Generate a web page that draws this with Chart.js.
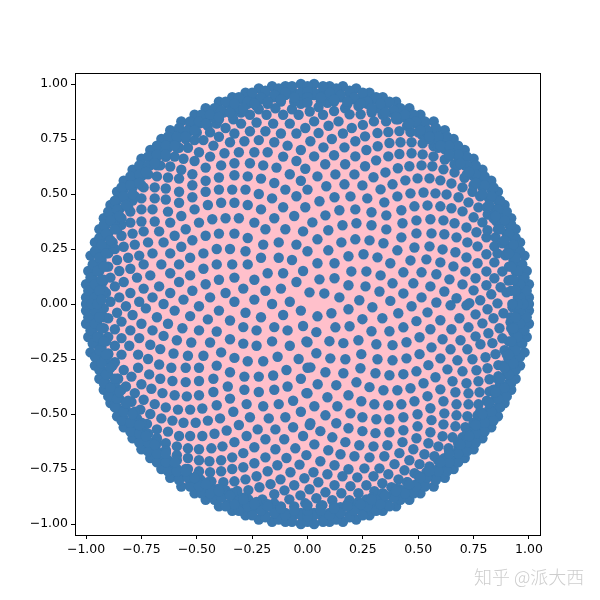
<!DOCTYPE html>
<html>
<head>
<meta charset="utf-8">
<style>
  html, body { margin: 0; padding: 0; background: #fff; }
  #wrap { position: relative; width: 600px; height: 600px; }
  #mark { position: absolute; left: 474px; top: 563px; color: #cdcdcd; font: 300 18px "Noto Sans CJK SC"; white-space: nowrap; }
</style>
<script src="https://cdn.jsdelivr.net/npm/chart.js@4"></script>
</head>
<body>
<div id="wrap">
  <canvas id="chart" width="600" height="600"></canvas>
  <div id="mark">知乎 @派大西</div>
</div>
<script>
const tickValues = [-1, -0.75, -0.5, -0.25, 0, 0.25, 0.5, 0.75, 1];
const tickLabels = ['−1.00', '−0.75', '−0.50', '−0.25', '0.00', '0.25', '0.50', '0.75', '1.00'];
const axisLimit = 1.05;
const discRadius = 1;

// separate dots, read by eye off the zoomed crops
const dotsTopLeft = [[-.08,.01],[-.16,0],[-.24,.02],[-.33,.01],[-.44,.03],[-.56,.02],[-.65,0],[-.76,.01],[-.89,.01],[-.12,.07],[-.19,.06],[-.29,.07],[-.37,.05],[-.52,.06],[-.62,.05],[-.7,.03],[-.74,.07],[-.8,.05],[-.85,.03],[-.05,.1],[-.24,.11],[-.33,.12],[-.4,.11],[-.46,.09],[-.58,.1],[-.67,.08],[-.02,.15],[-.11,.14],[-.18,.14],[-.27,.18],[-.34,.18],[-.41,.18],[-.47,.16],[-.53,.13],[-.62,.14],[-.71,.13],[-.77,.12],[-.83,.1],[-.87,.08],[-.91,.05],[-.07,.2],[-.13,.21],[-.21,.21],[-.28,.24],[-.35,.25],[-.41,.25],[-.47,.23],[-.53,.21],[-.58,.18],[-.66,.18],[-.74,.18],[-.8,.16],[-.85,.15],[-.89,.12],[-.925,.1],[0,.24],[-.05,.27],[-.13,.28],[-.2,.27],[-.27,.3],[-.33,.32],[-.4,.32],[-.46,.31],[-.52,.29],[-.57,.26],[-.62,.23],[-.7,.23],[-.76,.22],[-.81,.21],[-.86,.2],[-.9,.17],[-.02,.33],[-.1,.34],[-.19,.34],[-.24,.37],[-.31,.39],[-.37,.39],[-.43,.385],[-.49,.37],[-.55,.34],[-.6,.31],[-.65,.28],[-.72,.28],[-.78,.27],[-.83,.26],[-.87,.25],[-.06,.4],[-.15,.39],[-.21,.43],[-.27,.45],[-.33,.46],[-.39,.46],[-.45,.45],[-.51,.43],[-.57,.4],[-.62,.37],[-.67,.33],[-.74,.33],[-.79,.32],[-.84,.31],[-.01,.44],[-.11,.44],[-.16,.48],[-.22,.5],[-.28,.52],[-.34,.52],[-.4,.52],[-.46,.51],[-.52,.485],[-.58,.46],[-.63,.42],[-.69,.375],[-.75,.375],[-.8,.37],[-.84,.36],[-.05,.49],[-.1,.52],[-.15,.55],[-.21,.57],[-.27,.58],[-.33,.585],[-.4,.575],[-.46,.56],[-.52,.54],[-.58,.51],[-.64,.475],[-.7,.43],[-.75,.43],[-.8,.42],[0,.52],[-.03,.56],[-.08,.59],[-.14,.62],[-.2,.63],[-.26,.64],[-.33,.64],[-.39,.63],[-.46,.62],[-.52,.59],[-.58,.57],[-.64,.525],[-.69,.48],[-.75,.48],[-.79,.47],[-.01,.615],[-.05,.65],[-.11,.67],[-.18,.69],[-.24,.69],[-.31,.69],[-.375,.685],[-.44,.67],[-.51,.65],[-.57,.61],[-.63,.575],[-.69,.53],[-.74,.53],[-.03,.7],[-.09,.72],[-.15,.735],[-.22,.745],[-.285,.74],[-.35,.735],[-.425,.72],[-.49,.69],[-.56,.66],[-.62,.625],[-.68,.58],[-.05,.775],[-.12,.775],[-.19,.785],[-.26,.785],[-.33,.775],[-.4,.76],[-.47,.745],[-.54,.71],[-.6,.67],[-.665,.63],[-.01,.8],[-.08,.82],[-.155,.82],[-.23,.825],[-.3,.82],[-.37,.8],[-.44,.78],[-.51,.745],[-.58,.71],[-.64,.67],[-.04,.86],[-.11,.86],[-.185,.86],[-.26,.86],[-.335,.84],[-.41,.82],[-.03,.91],[-.07,.885],[-.145,.89],[-.22,.885],[-.3,.87]];
const dotsTopRight = [[.05,.895],[.09,.915],[.01,.875],[.07,.86],[.12,.877],[.17,.89],[.03,.83],[.14,.83],[.19,.862],[.24,.862],[.29,.87],[.34,.865],[.095,.81],[.2,.8],[.25,.814],[.3,.83],[.355,.83],[.41,.84],[.05,.777],[.16,.775],[.316,.777],[.365,.782],[.415,.786],[.465,.782],[.516,.77],[.11,.75],[.013,.74],[.216,.74],[.26,.762],[.317,.717],[.37,.732],[.42,.735],[.47,.735],[.52,.73],[.569,.718],[.62,.703],[.072,.712],[.167,.712],[.266,.7],[.365,.671],[.415,.682],[.47,.685],[.52,.68],[.569,.671],[.62,.657],[.664,.635],[.03,.671],[.12,.676],[.216,.671],[.31,.653],[.408,.617],[.46,.626],[.515,.63],[.564,.626],[.614,.612],[.664,.598],[.709,.574],[.08,.635],[.17,.635],[.26,.626],[.352,.598],[.442,.562],[.497,.571],[.551,.571],[.6,.562],[.65,.548],[.7,.53],[.745,.51],[.045,.58],[.126,.589],[.212,.589],[.298,.576],[.384,.544],[.465,.503],[.524,.507],[.578,.503],[.628,.498],[.682,.485],[.727,.462],[.772,.439],[.085,.535],[.167,.544],[.248,.539],[.33,.521],[.406,.489],[.483,.444],[.542,.448],[.6,.444],[.65,.435],[.7,.421],[.75,.394],[.79,.371],[.122,.485],[.194,.489],[.27,.48],[.347,.462],[.424,.426],[.492,.38],[.555,.385],[.614,.38],[.664,.367],[.718,.348],[.763,.326],[.808,.303],[.054,.467],[.144,.426],[.216,.43],[.289,.417],[.356,.403],[.429,.367],[.492,.321],[.56,.321],[.618,.317],[.673,.303],[.722,.28],[.768,.262],[.808,.226],[.081,.403],[.022,.371],[.158,.358],[.221,.367],[.289,.358],[.356,.339],[.424,.303],[.483,.257],[.551,.262],[.61,.248],[.668,.235],[.718,.212],[.768,.185],[.094,.335],[.045,.294],[.153,.28],[.216,.294],[.28,.289],[.343,.276],[.406,.244],[.465,.198],[.537,.203],[.6,.189],[.659,.171],[.713,.148],[.759,.117],[.094,.244],[.185,.217],[.253,.226],[.316,.212],[.374,.185],[.433,.144],[.515,.144],[.582,.135],[.641,.112],[.7,.089],[.75,.062],[.045,.185],[.122,.185],[.198,.148],[.266,.148],[.33,.13],[.384,.094],[.478,.094],[.555,.08],[.618,.057],[.673,.026],[.731,.004],[.054,.112],[.122,.117],[.185,.085],[.262,.08],[.325,.057],[.374,.014],[.433,.048],[.515,.03],[.582,.007],[.009,.053],[.076,.048],[.144,.03],[.234,.017],[.808,.148],[.844,.189],[.88,.148],[.844,.117],[.808,.085],[.872,.076],[.908,.107],[.899,.053],[.83,.044],[.78,.017],[.858,.003],[.814,.407],[.853,.376],[.813,.335],[.849,.303],[.844,.262],[.88,.276],[.894,.221],[.858,.23],[.917,.244]];
const dotsBottomLeft = [[-.82,-.01],[-.92,-.02],[-.86,-.04],[-.9,-.065],[-.79,-.05],[-.73,-.02],[-.49,-.01],[-.4,-.03],[-.28,-.04],[-.21,-.06],[-.11,-.05],[-.03,-.03],[-.84,-.08],[-.87,-.115],[-.75,-.09],[-.68,-.06],[-.6,-.03],[-.53,-.055],[-.45,-.07],[-.35,-.075],[-.29,-.105],[-.23,-.12],[-.15,-.105],[-.09,-.12],[-.02,-.1],[-.9,-.15],[-.8,-.12],[-.7,-.12],[-.63,-.09],[-.565,-.11],[-.49,-.12],[-.41,-.125],[-.29,-.18],[-.23,-.19],[-.16,-.17],[-.08,-.19],[-.005,-.17],[-.84,-.155],[-.76,-.155],[-.65,-.145],[-.59,-.165],[-.525,-.175],[-.44,-.175],[-.35,-.16],[-.87,-.19],[-.805,-.19],[-.71,-.185],[-.665,-.205],[-.605,-.225],[-.54,-.235],[-.47,-.235],[-.39,-.22],[-.33,-.245],[-.27,-.26],[-.2,-.26],[-.135,-.24],[-.04,-.25],[-.9,-.225],[-.84,-.23],[-.765,-.23],[-.72,-.25],[-.67,-.275],[-.615,-.29],[-.55,-.29],[-.49,-.29],[-.41,-.28],[-.35,-.31],[-.285,-.33],[-.22,-.33],[-.155,-.325],[-.095,-.3],[0,-.29],[-.87,-.265],[-.83,-.3],[-.765,-.29],[-.715,-.32],[-.665,-.34],[-.61,-.35],[-.55,-.355],[-.49,-.35],[-.425,-.34],[-.36,-.375],[-.285,-.39],[-.22,-.4],[-.15,-.39],[-.09,-.375],[-.03,-.34],[-.855,-.34],[-.795,-.33],[-.75,-.365],[-.705,-.385],[-.655,-.405],[-.6,-.415],[-.545,-.42],[-.49,-.415],[-.425,-.4],[-.35,-.43],[-.275,-.455],[-.2,-.465],[-.13,-.455],[-.065,-.44],[-.005,-.405],[-.82,-.375],[-.78,-.405],[-.74,-.435],[-.69,-.455],[-.64,-.47],[-.585,-.48],[-.53,-.48],[-.475,-.475],[-.41,-.46],[-.335,-.49],[-.26,-.515],[-.175,-.52],[-.1,-.515],[-.03,-.49],[-.795,-.445],[-.755,-.48],[-.71,-.5],[-.66,-.52],[-.61,-.53],[-.56,-.54],[-.505,-.54],[-.45,-.53],[-.395,-.52],[-.31,-.55],[-.225,-.57],[-.145,-.57],[-.065,-.56],[.01,-.55],[-.77,-.52],[-.725,-.545],[-.68,-.57],[-.63,-.58],[-.58,-.6],[-.53,-.6],[-.475,-.6],[-.42,-.59],[-.365,-.575],[-.275,-.6],[-.19,-.615],[-.105,-.615],[-.02,-.6],[-.73,-.587],[-.68,-.61],[-.64,-.633],[-.59,-.647],[-.54,-.656],[-.49,-.66],[-.434,-.656],[-.384,-.647],[-.33,-.628],[-.24,-.651],[-.145,-.66],[-.055,-.656],[-.687,-.647],[-.64,-.665],[-.59,-.687],[-.54,-.7],[-.49,-.71],[-.443,-.715],[-.39,-.71],[-.34,-.697],[-.29,-.678],[-.19,-.697],[-.095,-.7],[-.005,-.687],[-.54,-.75],[-.49,-.76],[-.44,-.765],[-.39,-.76],[-.34,-.75],[-.29,-.742],[-.24,-.724],[-.136,-.733],[-.036,-.73],[-.484,-.797],[-.434,-.806],[-.38,-.81],[-.33,-.806],[-.28,-.797],[-.23,-.783],[-.18,-.76],[-.077,-.765],[-.42,-.842],[-.37,-.846],[-.317,-.85],[-.267,-.846],[-.217,-.833],[-.167,-.819],[-.122,-.797],[-.014,-.792],[-.317,-.892],[-.267,-.888],[-.204,-.888],[-.15,-.865],[-.104,-.847],[-.06,-.824],[-.15,-.906],[-.082,-.888],[-.032,-.87],[-.01,-.906]];
const dotsBottomRight = [[.045,-.056],[.108,-.042],[.185,-.024],[.248,-.069],[.293,-.015],[.338,-.065],[.41,-.042],[.47,-.01],[.542,-.038],[.646,-.006],[.718,-.006],[.6,-.074],[.686,-.065],[.759,-.047],[.813,-.024],[.126,-.106],[.19,-.101],[.289,-.124],[.37,-.124],[.433,-.106],[.492,-.078],[.555,-.115],[.65,-.115],[.727,-.106],[.79,-.088],[.84,-.065],[.885,-.042],[.926,-.015],[.04,-.128],[.099,-.169],[.162,-.178],[.23,-.165],[.311,-.183],[.384,-.187],[.447,-.174],[.506,-.151],[.61,-.16],[.691,-.165],[.759,-.147],[.817,-.133],[.867,-.11],[.917,-.083],[.948,-.056],[0,-.174],[.04,-.224],[.103,-.247],[.171,-.251],[.243,-.228],[.316,-.251],[.384,-.256],[.447,-.247],[.506,-.228],[.56,-.197],[.646,-.206],[.722,-.206],[.781,-.183],[.835,-.178],[.88,-.156],[.93,-.128],[.013,-.288],[.081,-.31],[.162,-.315],[.239,-.292],[.307,-.315],[.37,-.324],[.433,-.319],[.492,-.306],[.546,-.278],[.6,-.247],[.677,-.256],[.745,-.251],[.804,-.242],[.849,-.228],[.89,-.21],[.944,-.183],[.046,-.365],[.13,-.369],[.221,-.356],[.28,-.378],[.343,-.392],[.406,-.392],[.465,-.383],[.524,-.36],[.578,-.333],[.632,-.297],[.7,-.306],[.763,-.301],[.813,-.292],[.862,-.278],[.908,-.251],[.948,-.228],[0,-.406],[.09,-.424],[.185,-.415],[.243,-.442],[.302,-.456],[.365,-.46],[.424,-.456],[.483,-.442],[.542,-.419],[.6,-.388],[.655,-.351],[.718,-.36],[.772,-.351],[.822,-.342],[.862,-.328],[.903,-.301],[.031,-.465],[.135,-.465],[.194,-.497],[.248,-.515],[.311,-.524],[.37,-.524],[.433,-.515],[.497,-.501],[.555,-.474],[.614,-.442],[.668,-.401],[.727,-.406],[.777,-.401],[.822,-.397],[.867,-.374],[.081,-.506],[.013,-.542],[.13,-.542],[.185,-.565],[.248,-.578],[.307,-.587],[.37,-.583],[.433,-.574],[.497,-.556],[.56,-.528],[.618,-.497],[.673,-.456],[.727,-.456],[.772,-.456],[.822,-.447],[.862,-.424],[.058,-.578],[.112,-.606],[.171,-.628],[.234,-.642],[.298,-.647],[.361,-.642],[.429,-.628],[.492,-.61],[.555,-.583],[.614,-.547],[.673,-.506],[.722,-.51],[.768,-.506],[.808,-.497],[.031,-.638],[.094,-.665],[.149,-.683],[.212,-.692],[.28,-.697],[.347,-.692],[.415,-.678],[.478,-.66],[.546,-.633],[.61,-.601],[.668,-.556],[.713,-.56],[.754,-.556],[.058,-.715],[.122,-.733],[.185,-.751],[.257,-.747],[.325,-.747],[.393,-.728],[.46,-.71],[.528,-.683],[.591,-.647],[.655,-.606],[.7,-.606],[.027,-.765],[.09,-.774],[.158,-.783],[.225,-.788],[.298,-.783],[.365,-.774],[.438,-.756],[.506,-.728],[.573,-.692],[.637,-.656],[.682,-.647],[.049,-.81],[.122,-.824],[.194,-.828],[.266,-.824],[.338,-.815],[.411,-.797],[.483,-.769],[.551,-.738],[.618,-.701],[.009,-.842],[.081,-.856],[.153,-.86],[.23,-.86],[.302,-.851],[.379,-.833],[.451,-.81],[.537,-.765],[.04,-.883],[.112,-.892],[.189,-.892],[.266,-.888],[.343,-.87],[.415,-.842],[.067,-.915],[.149,-.924],[.225,-.915],[.302,-.901]];

// the outer band is merged solid in the reference, so these are estimated rows, not single readings
const rimTopLeft = [[-.03,1],[-.1,.99],[-.16,.99],[-.22,.98],[-.28,.96],[-.34,.94],[-.4,.92],[-.46,.89],[-.51,.86],[-.57,.83],[-.62,.79],[-.66,.75],[-.71,.7],[-.75,.66],[-.79,.61],[-.83,.56],[-.86,.51],[-.89,.45],[-.92,.39],[-.94,.34],[-.96,.28],[-.98,.22],[-.99,.15],[-1,.09],[-1,.03],[-.07,.97],[-.13,.97],[-.19,.96],[-.25,.94],[-.3,.93],[-.36,.91],[-.42,.88],[-.47,.85],[-.53,.82],[-.58,.79],[-.62,.75],[-.67,.71],[-.71,.67],[-.75,.62],[-.79,.57],[-.83,.52],[-.86,.47],[-.88,.41],[-.91,.36],[-.93,.3],[-.95,.24],[-.96,.18],[-.97,.12],[-.97,.06],[-.03,.95],[-.1,.95],[-.15,.94],[-.21,.93],[-.27,.91],[-.32,.89],[-.38,.87],[-.43,.85],[-.49,.82],[-.54,.78],[-.59,.75],[-.63,.71],[-.68,.67],[-.71,.63],[-.75,.58],[-.79,.53],[-.82,.48],[-.85,.43],[-.87,.37],[-.9,.32],[-.91,.26],[-.93,.2],[-.94,.15],[-.95,.09],[-.95,.03],[-.06,.92],[-.12,.92],[-.18,.91],[-.23,.9],[-.29,.88],[-.34,.86],[-.4,.84],[-.45,.81],[-.5,.78],[-.55,.75],[-.59,.71],[-.64,.67],[-.68,.63],[-.72,.59],[-.75,.54],[-.78,.49],[-.81,.44],[-.84,.39],[-.86,.34],[-.88,.28],[-.9,.23],[-.91,.17],[-.92,.11],[-.92,.06],[-.07,.99],[-.13,.98],[-.19,.97],[-.25,.96],[-.31,.94],[-.37,.92],[-.42,.89],[-.48,.86],[-.53,.83],[-.58,.8],[-.63,.76],[-.68,.72],[-.72,.67],[-.76,.63],[-.8,.58],[-.84,.53],[-.87,.47],[-.9,.42],[-.92,.36],[-.94,.3],[-.96,.24],[-.97,.18],[-.98,.12],[-.99,.06],[-.03,.96],[-.1,.96],[-.15,.95],[-.21,.94],[-.27,.92],[-.33,.91],[-.39,.88],[-.44,.86],[-.49,.83],[-.54,.79],[-.59,.76],[-.64,.72],[-.68,.68],[-.72,.63],[-.76,.59],[-.8,.54],[-.83,.49],[-.86,.43],[-.89,.38],[-.91,.32],[-.93,.27],[-.94,.21],[-.95,.15],[-.96,.09],[-.96,.03],[-.06,.94],[-.12,.93],[-.18,.92],[-.24,.91],[-.29,.89],[-.35,.87],[-.4,.85],[-.46,.82],[-.51,.79],[-.55,.76],[-.6,.72],[-.64,.68],[-.69,.64],[-.73,.6],[-.76,.55],[-.79,.5],[-.82,.45],[-.85,.4],[-.87,.34],[-.89,.29],[-.91,.23],[-.92,.17],[-.93,.11],[-.94,.06]];
const rimTopRight = [[.03,1],[.1,.99],[.16,.99],[.22,.98],[.28,.96],[.34,.94],[.4,.92],[.46,.89],[.51,.86],[.57,.83],[.62,.79],[.66,.75],[.71,.7],[.75,.66],[.79,.61],[.83,.56],[.86,.51],[.89,.45],[.92,.39],[.94,.34],[.96,.28],[.98,.22],[.99,.15],[1,.09],[1,.03],[.07,.97],[.13,.97],[.19,.96],[.25,.94],[.3,.93],[.36,.91],[.42,.88],[.47,.85],[.53,.82],[.58,.79],[.62,.75],[.67,.71],[.71,.67],[.75,.62],[.79,.57],[.83,.52],[.86,.47],[.88,.41],[.91,.36],[.93,.3],[.95,.24],[.96,.18],[.97,.12],[.97,.06],[.03,.95],[.1,.95],[.15,.94],[.21,.93],[.27,.91],[.32,.89],[.38,.87],[.43,.85],[.49,.82],[.54,.78],[.59,.75],[.63,.71],[.68,.67],[.71,.63],[.75,.58],[.79,.53],[.82,.48],[.85,.43],[.87,.37],[.9,.32],[.91,.26],[.93,.2],[.94,.15],[.95,.09],[.95,.03],[.06,.92],[.12,.92],[.18,.91],[.23,.9],[.29,.88],[.34,.86],[.4,.84],[.45,.81],[.5,.78],[.55,.75],[.59,.71],[.64,.67],[.68,.63],[.72,.59],[.75,.54],[.78,.49],[.81,.44],[.84,.39],[.86,.34],[.88,.28],[.9,.23],[.91,.17],[.92,.11],[.92,.06],[.07,.99],[.13,.98],[.19,.97],[.25,.96],[.31,.94],[.37,.92],[.42,.89],[.48,.86],[.53,.83],[.58,.8],[.63,.76],[.68,.72],[.72,.67],[.76,.63],[.8,.58],[.84,.53],[.87,.47],[.9,.42],[.92,.36],[.94,.3],[.96,.24],[.97,.18],[.98,.12],[.99,.06],[.03,.96],[.1,.96],[.15,.95],[.21,.94],[.27,.92],[.33,.91],[.39,.88],[.44,.86],[.49,.83],[.54,.79],[.59,.76],[.64,.72],[.68,.68],[.72,.63],[.76,.59],[.8,.54],[.83,.49],[.86,.43],[.89,.38],[.91,.32],[.93,.27],[.94,.21],[.95,.15],[.96,.09],[.96,.03],[.06,.94],[.12,.93],[.18,.92],[.24,.91],[.29,.89],[.35,.87],[.4,.85],[.46,.82],[.51,.79],[.55,.76],[.6,.72],[.64,.68],[.69,.64],[.73,.6],[.76,.55],[.79,.5],[.82,.45],[.85,.4],[.87,.34],[.89,.29],[.91,.23],[.92,.17],[.93,.11],[.94,.06]];
const rimBottomLeft = [[-.03,-1],[-.1,-.99],[-.16,-.99],[-.22,-.98],[-.28,-.96],[-.34,-.94],[-.4,-.92],[-.46,-.89],[-.51,-.86],[-.57,-.83],[-.62,-.79],[-.66,-.75],[-.71,-.7],[-.75,-.66],[-.79,-.61],[-.83,-.56],[-.86,-.51],[-.89,-.45],[-.92,-.39],[-.94,-.34],[-.96,-.28],[-.98,-.22],[-.99,-.15],[-1,-.09],[-1,-.03],[-.07,-.97],[-.13,-.97],[-.19,-.96],[-.25,-.94],[-.3,-.93],[-.36,-.91],[-.42,-.88],[-.47,-.85],[-.53,-.82],[-.58,-.79],[-.62,-.75],[-.67,-.71],[-.71,-.67],[-.75,-.62],[-.79,-.57],[-.83,-.52],[-.86,-.47],[-.88,-.41],[-.91,-.36],[-.93,-.3],[-.95,-.24],[-.96,-.18],[-.97,-.12],[-.97,-.06],[-.03,-.95],[-.1,-.95],[-.15,-.94],[-.21,-.93],[-.27,-.91],[-.32,-.89],[-.38,-.87],[-.43,-.85],[-.49,-.82],[-.54,-.78],[-.59,-.75],[-.63,-.71],[-.68,-.67],[-.71,-.63],[-.75,-.58],[-.79,-.53],[-.82,-.48],[-.85,-.43],[-.87,-.37],[-.9,-.32],[-.91,-.26],[-.93,-.2],[-.94,-.15],[-.95,-.09],[-.95,-.03],[-.06,-.92],[-.12,-.92],[-.18,-.91],[-.23,-.9],[-.29,-.88],[-.34,-.86],[-.4,-.84],[-.45,-.81],[-.5,-.78],[-.55,-.75],[-.59,-.71],[-.64,-.67],[-.68,-.63],[-.72,-.59],[-.75,-.54],[-.78,-.49],[-.81,-.44],[-.84,-.39],[-.86,-.34],[-.88,-.28],[-.9,-.23],[-.91,-.17],[-.92,-.11],[-.92,-.06],[-.07,-.99],[-.13,-.98],[-.19,-.97],[-.25,-.96],[-.31,-.94],[-.37,-.92],[-.42,-.89],[-.48,-.86],[-.53,-.83],[-.58,-.8],[-.63,-.76],[-.68,-.72],[-.72,-.67],[-.76,-.63],[-.8,-.58],[-.84,-.53],[-.87,-.47],[-.9,-.42],[-.92,-.36],[-.94,-.3],[-.96,-.24],[-.97,-.18],[-.98,-.12],[-.99,-.06],[-.03,-.96],[-.1,-.96],[-.15,-.95],[-.21,-.94],[-.27,-.92],[-.33,-.91],[-.39,-.88],[-.44,-.86],[-.49,-.83],[-.54,-.79],[-.59,-.76],[-.64,-.72],[-.68,-.68],[-.72,-.63],[-.76,-.59],[-.8,-.54],[-.83,-.49],[-.86,-.43],[-.89,-.38],[-.91,-.32],[-.93,-.27],[-.94,-.21],[-.95,-.15],[-.96,-.09],[-.96,-.03],[-.06,-.94],[-.12,-.93],[-.18,-.92],[-.24,-.91],[-.29,-.89],[-.35,-.87],[-.4,-.85],[-.46,-.82],[-.51,-.79],[-.55,-.76],[-.6,-.72],[-.64,-.68],[-.69,-.64],[-.73,-.6],[-.76,-.55],[-.79,-.5],[-.82,-.45],[-.85,-.4],[-.87,-.34],[-.89,-.29],[-.91,-.23],[-.92,-.17],[-.93,-.11],[-.94,-.06]];
const rimBottomRight = [[.03,-1],[.1,-.99],[.16,-.99],[.22,-.98],[.28,-.96],[.34,-.94],[.4,-.92],[.46,-.89],[.51,-.86],[.57,-.83],[.62,-.79],[.66,-.75],[.71,-.7],[.75,-.66],[.79,-.61],[.83,-.56],[.86,-.51],[.89,-.45],[.92,-.39],[.94,-.34],[.96,-.28],[.98,-.22],[.99,-.15],[1,-.09],[1,-.03],[.07,-.97],[.13,-.97],[.19,-.96],[.25,-.94],[.3,-.93],[.36,-.91],[.42,-.88],[.47,-.85],[.53,-.82],[.58,-.79],[.62,-.75],[.67,-.71],[.71,-.67],[.75,-.62],[.79,-.57],[.83,-.52],[.86,-.47],[.88,-.41],[.91,-.36],[.93,-.3],[.95,-.24],[.96,-.18],[.97,-.12],[.97,-.06],[.03,-.95],[.1,-.95],[.15,-.94],[.21,-.93],[.27,-.91],[.32,-.89],[.38,-.87],[.43,-.85],[.49,-.82],[.54,-.78],[.59,-.75],[.63,-.71],[.68,-.67],[.71,-.63],[.75,-.58],[.79,-.53],[.82,-.48],[.85,-.43],[.87,-.37],[.9,-.32],[.91,-.26],[.93,-.2],[.94,-.15],[.95,-.09],[.95,-.03],[.06,-.92],[.12,-.92],[.18,-.91],[.23,-.9],[.29,-.88],[.34,-.86],[.4,-.84],[.45,-.81],[.5,-.78],[.55,-.75],[.59,-.71],[.64,-.67],[.68,-.63],[.72,-.59],[.75,-.54],[.78,-.49],[.81,-.44],[.84,-.39],[.86,-.34],[.88,-.28],[.9,-.23],[.91,-.17],[.92,-.11],[.92,-.06],[.07,-.99],[.13,-.98],[.19,-.97],[.25,-.96],[.31,-.94],[.37,-.92],[.42,-.89],[.48,-.86],[.53,-.83],[.58,-.8],[.63,-.76],[.68,-.72],[.72,-.67],[.76,-.63],[.8,-.58],[.84,-.53],[.87,-.47],[.9,-.42],[.92,-.36],[.94,-.3],[.96,-.24],[.97,-.18],[.98,-.12],[.99,-.06],[.03,-.96],[.1,-.96],[.15,-.95],[.21,-.94],[.27,-.92],[.33,-.91],[.39,-.88],[.44,-.86],[.49,-.83],[.54,-.79],[.59,-.76],[.64,-.72],[.68,-.68],[.72,-.63],[.76,-.59],[.8,-.54],[.83,-.49],[.86,-.43],[.89,-.38],[.91,-.32],[.93,-.27],[.94,-.21],[.95,-.15],[.96,-.09],[.96,-.03],[.06,-.94],[.12,-.93],[.18,-.92],[.24,-.91],[.29,-.89],[.35,-.87],[.4,-.85],[.46,-.82],[.51,-.79],[.55,-.76],[.6,-.72],[.64,-.68],[.69,-.64],[.73,-.6],[.76,-.55],[.79,-.5],[.82,-.45],[.85,-.4],[.87,-.34],[.89,-.29],[.91,-.23],[.92,-.17],[.93,-.11],[.94,-.06]];
const rimAxisGaps = [[0,.99],[0,.965],[0,.94],[0,.915],[0,-.99],[0,-.965],[0,-.94],[0,-.915],[1,0],[.975,0],[.95,0],[.925,0],[-1,0],[-.975,0],[-.95,0],[-.93,.02]];

const allPoints = [].concat(dotsTopLeft, dotsTopRight, dotsBottomLeft, dotsBottomRight,
  rimTopLeft, rimTopRight, rimBottomLeft, rimBottomRight, rimAxisGaps);

// pink disc under the dots and the box round the plot
const discPlugin = {
  id: 'disc',
  beforeDatasetsDraw(chart) {
    const { ctx, scales: { x, y } } = chart;
    const rx = x.getPixelForValue(discRadius) - x.getPixelForValue(0);
    const ry = y.getPixelForValue(0) - y.getPixelForValue(discRadius);
    ctx.save();
    ctx.fillStyle = '#ffc0cb';
    ctx.beginPath();
    ctx.ellipse(x.getPixelForValue(0), y.getPixelForValue(0), rx, ry, 0, 0, Math.PI * 2);
    ctx.fill();
    ctx.restore();
  },
  afterDraw(chart) {
    const { ctx, chartArea: a } = chart;
    ctx.save();
    ctx.strokeStyle = '#000';
    ctx.lineWidth = 1;
    ctx.strokeRect(a.left + 0.5, a.top + 0.5, a.right - a.left, a.bottom - a.top);
    ctx.restore();
  }
};

function axis(size, fit) {
  return {
    type: 'linear',
    min: -axisLimit,
    max: axisLimit,
    afterBuildTicks(scale) {
      scale.ticks = tickValues.map(v => ({ value: v }));
    },
    afterFit: fit,
    grid: { drawOnChartArea: false, drawTicks: true, tickLength: 4, tickColor: '#000' },
    border: { display: false },
    ticks: {
      autoSkip: false,
      maxRotation: 0,
      padding: 3,
      color: '#000',
      font: { family: 'DejaVu Sans', size: size },
      callback: (v) => tickLabels[tickValues.indexOf(v)]
    }
  };
}

new Chart(document.getElementById('chart'), {
  type: 'scatter',
  data: {
    datasets: [{
      data: allPoints.map(p => ({ x: p[0], y: p[1] })),
      backgroundColor: '#3a77ad',
      borderWidth: 0,
      pointRadius: 5.2,
      pointHoverRadius: 5.2
    }]
  },
  options: {
    responsive: false,
    animation: false,
    layout: { padding: { top: 73, right: 60, left: 0, bottom: 0 } },
    plugins: { legend: { display: false }, tooltip: { enabled: false } },
    scales: {
      x: axis(12.5, s => { s.height = 65; }),
      y: axis(12.5, s => { s.width = 75; })
    }
  },
  plugins: [discPlugin]
});
</script>
</body>
</html>
